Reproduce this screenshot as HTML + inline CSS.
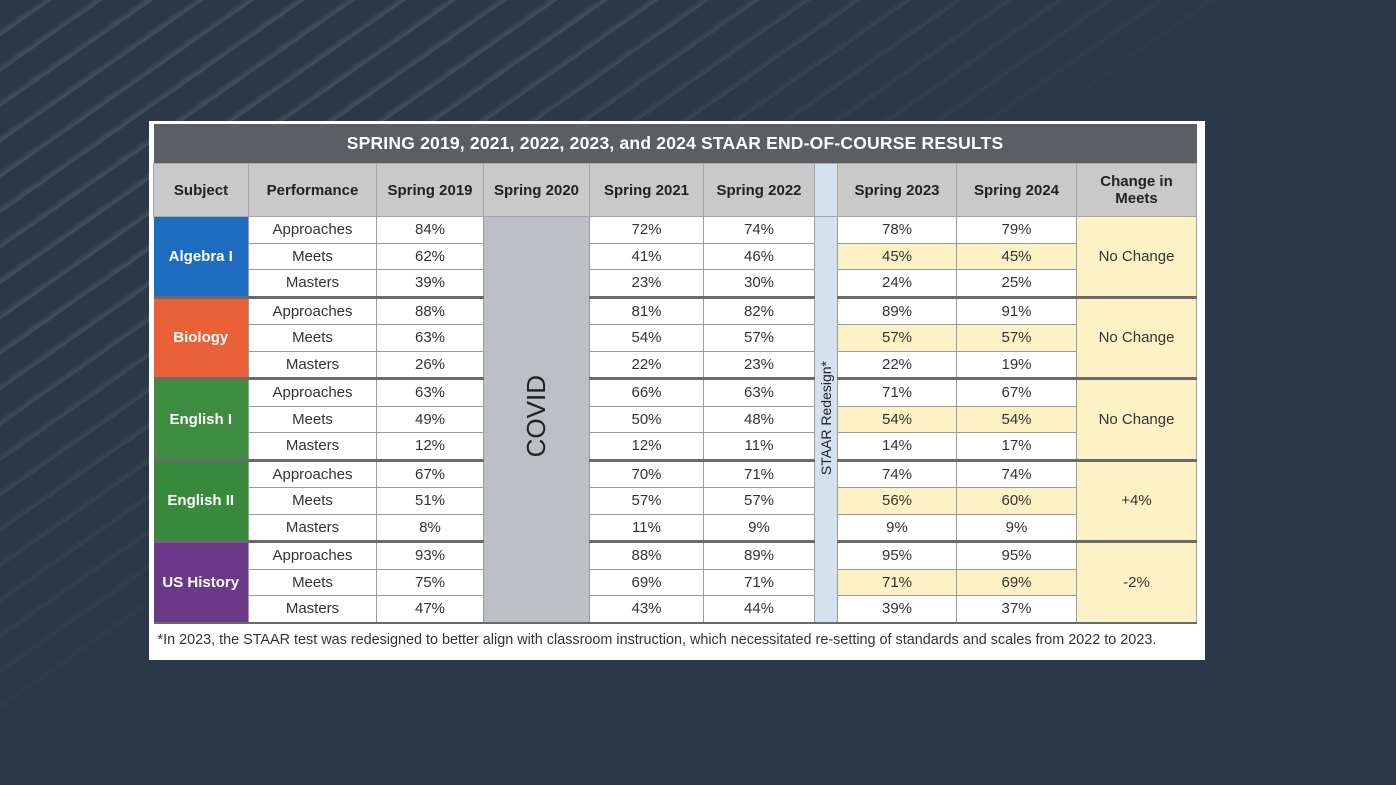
<!DOCTYPE html>
<html><head><meta charset="utf-8"><style>
html,body{margin:0;padding:0;width:1396px;height:785px;overflow:hidden;background:#2a3848;font-family:"Liberation Sans",sans-serif;}
.stripes{position:absolute;left:0;top:0;width:1396px;height:785px;
background:repeating-linear-gradient(-35deg,rgba(255,255,255,0) 0px,rgba(255,255,255,0) 21px,rgba(255,255,255,0.12) 23px,rgba(255,255,255,0.04) 27px,rgba(255,255,255,0) 29px);
-webkit-mask-image:linear-gradient(150deg,#000 0%,#000 22%,transparent 48%);mask-image:linear-gradient(150deg,#000 0%,#000 22%,transparent 48%);}
.frame{position:absolute;left:149px;top:121px;width:1056px;height:539px;background:#fff;}
table{position:absolute;left:4px;top:3px;border-collapse:collapse;table-layout:fixed;width:1043px;}
td{border:1px solid #9a9a9a;text-align:center;font-size:15px;color:#333;padding:0;height:25.5px;}
.title td{background:#5b5f64;color:#fff;font-weight:bold;font-size:17.5px;height:39px;border:none;letter-spacing:0.2px}
.hdr td{background:#c9c9c9;font-weight:bold;height:52px;color:#222;border-color:#a5a5a5}
.subj{color:#fff;font-weight:bold;border:none}
.covid{background:#bcbfc3;font-size:26px;color:#222}
.red{background:#d3e2ee;font-size:14px;color:#222;}
.y{background:#fcf2c6}
.g td{border-top:3px solid #6a6a6a}
.foot td{text-align:left;font-size:14.4px;height:32px;padding-left:4px;border:none;border-top:2px solid #6a6a6a;color:#333;white-space:nowrap}
.v{display:inline-block;writing-mode:vertical-rl;transform:rotate(180deg);white-space:nowrap}
</style></head><body>
<div class="stripes"></div>
<div class="frame">
<table>
<colgroup><col style="width:95px"><col style="width:128px"><col style="width:107px"><col style="width:106px"><col style="width:114px"><col style="width:111px"><col style="width:23px"><col style="width:119px"><col style="width:120px"><col style="width:120px"></colgroup>
<tr class="title"><td colspan="10">SPRING 2019, 2021, 2022, 2023, and 2024 STAAR END-OF-COURSE RESULTS</td></tr>
<tr class="hdr"><td>Subject</td><td>Performance</td><td>Spring 2019</td><td>Spring 2020</td><td>Spring 2021</td><td>Spring 2022</td><td style="background:#d3e2ee"></td><td>Spring 2023</td><td>Spring 2024</td><td>Change in<br>Meets</td></tr>
<tr><td rowspan="3" class="subj" style="background:#1e6cc0">Algebra I</td><td>Approaches</td><td>84%</td><td rowspan="15" class="covid"><span class="v">COVID</span></td><td>72%</td><td>74%</td><td rowspan="15" class="red"><span class="v">STAAR Redesign*</span></td><td>78%</td><td>79%</td><td rowspan="3" class="y">No Change</td></tr>
<tr><td>Meets</td><td>62%</td><td>41%</td><td>46%</td><td class="y">45%</td><td class="y">45%</td></tr>
<tr><td>Masters</td><td>39%</td><td>23%</td><td>30%</td><td>24%</td><td>25%</td></tr>
<tr class="g"><td rowspan="3" class="subj" style="background:#ea6138">Biology</td><td>Approaches</td><td>88%</td><td>81%</td><td>82%</td><td>89%</td><td>91%</td><td rowspan="3" class="y">No Change</td></tr>
<tr><td>Meets</td><td>63%</td><td>54%</td><td>57%</td><td class="y">57%</td><td class="y">57%</td></tr>
<tr><td>Masters</td><td>26%</td><td>22%</td><td>23%</td><td>22%</td><td>19%</td></tr>
<tr class="g"><td rowspan="3" class="subj" style="background:#3d8c40">English I</td><td>Approaches</td><td>63%</td><td>66%</td><td>63%</td><td>71%</td><td>67%</td><td rowspan="3" class="y">No Change</td></tr>
<tr><td>Meets</td><td>49%</td><td>50%</td><td>48%</td><td class="y">54%</td><td class="y">54%</td></tr>
<tr><td>Masters</td><td>12%</td><td>12%</td><td>11%</td><td>14%</td><td>17%</td></tr>
<tr class="g"><td rowspan="3" class="subj" style="background:#3a8a3e">English II</td><td>Approaches</td><td>67%</td><td>70%</td><td>71%</td><td>74%</td><td>74%</td><td rowspan="3" class="y">+4%</td></tr>
<tr><td>Meets</td><td>51%</td><td>57%</td><td>57%</td><td class="y">56%</td><td class="y">60%</td></tr>
<tr><td>Masters</td><td>8%</td><td>11%</td><td>9%</td><td>9%</td><td>9%</td></tr>
<tr class="g"><td rowspan="3" class="subj" style="background:#6a3a88">US History</td><td>Approaches</td><td>93%</td><td>88%</td><td>89%</td><td>95%</td><td>95%</td><td rowspan="3" class="y">-2%</td></tr>
<tr><td>Meets</td><td>75%</td><td>69%</td><td>71%</td><td class="y">71%</td><td class="y">69%</td></tr>
<tr><td>Masters</td><td>47%</td><td>43%</td><td>44%</td><td>39%</td><td>37%</td></tr>
<tr class="foot"><td colspan="10">*In 2023, the STAAR test was redesigned to better align with classroom instruction, which necessitated re-setting of standards and scales from 2022 to 2023.</td></tr>
</table>
</div>
</body></html>
